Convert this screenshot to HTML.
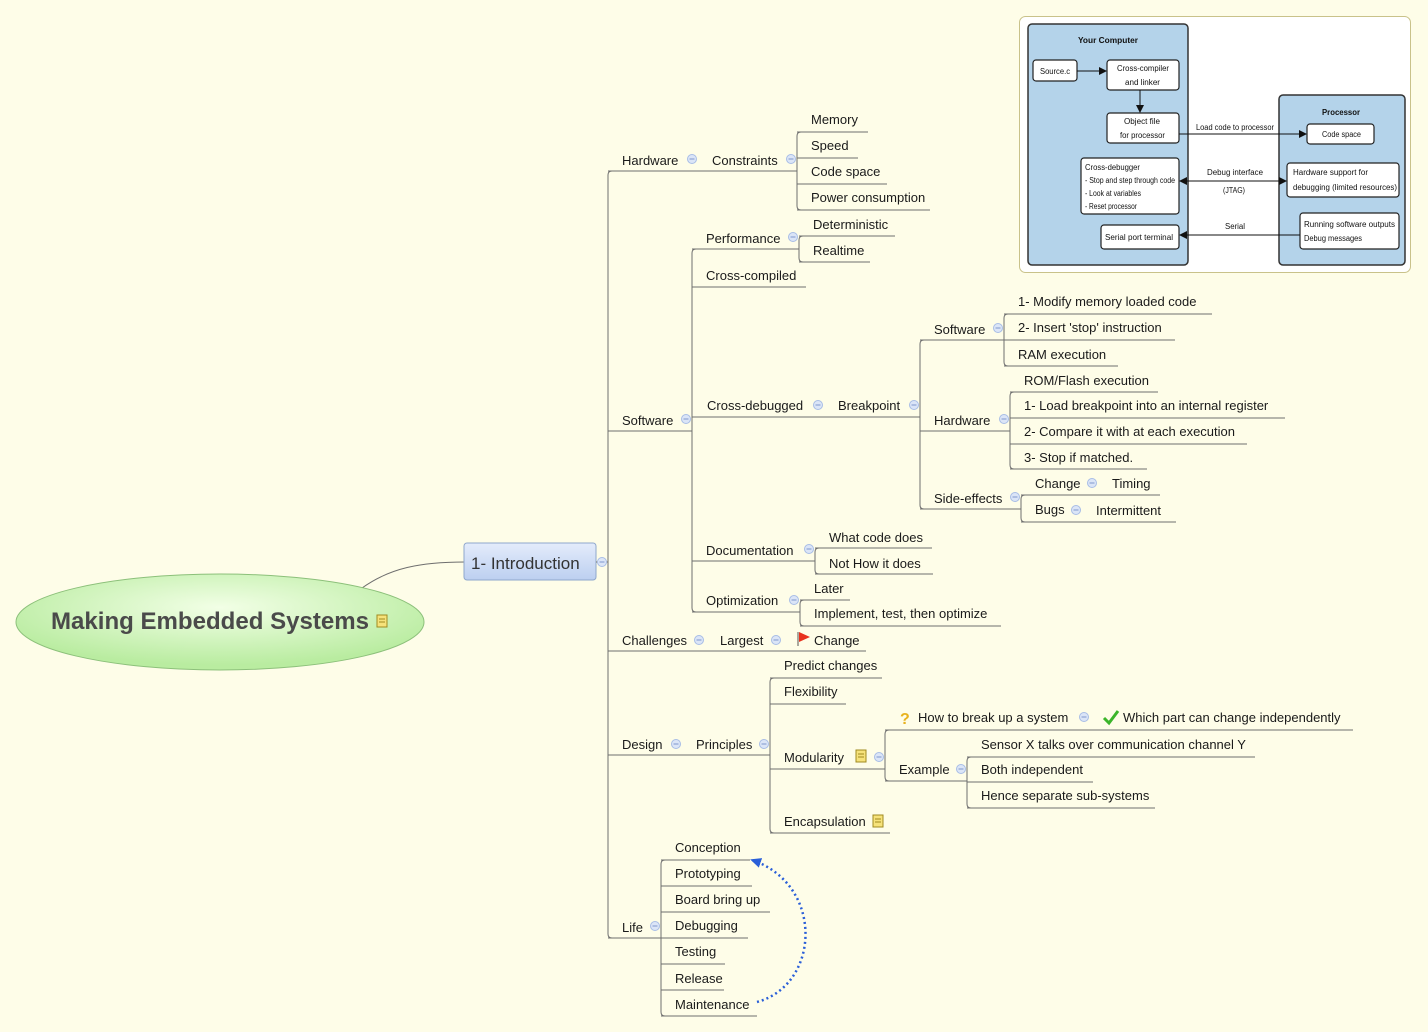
<!DOCTYPE html>
<html><head><meta charset="utf-8"><style>
html,body{margin:0;padding:0;background:#fefde8;}
svg{display:block}
text{font-family:"Liberation Sans",sans-serif;font-size:13px;fill:#1a1a1a;}
.l{stroke:#6e6e6e;stroke-width:1;fill:none}
.c{fill:#dbe5f7;stroke:#a8bde6;stroke-width:1}
.m{stroke:#7f97cc;stroke-width:1}
.s{font-size:8px;fill:#111}
.b{fill:#fff;stroke:#222;stroke-width:1.2}
</style></head><body>
<svg width="1428" height="1032" viewBox="0 0 1428 1032" xmlns="http://www.w3.org/2000/svg">
<defs>
<radialGradient id="g" cx="50%" cy="35%" r="60%"><stop offset="0" stop-color="#f2ffe6"/><stop offset="1" stop-color="#b9eca0"/></radialGradient>
<linearGradient id="bb" x1="0" y1="0" x2="0" y2="1"><stop offset="0" stop-color="#e4ecfb"/><stop offset="1" stop-color="#bccff0"/></linearGradient>
<marker id="ar" markerUnits="userSpaceOnUse" markerWidth="8" markerHeight="8" refX="7" refY="4" orient="auto-start-reverse"><path d="M0,0 L8,4 L0,8 z" fill="#111"/></marker>
<marker id="ab" markerUnits="userSpaceOnUse" markerWidth="12" markerHeight="12" refX="9" refY="6" orient="auto"><path d="M0,1 L11,6 L0,11 z" fill="#2a5fd8"/></marker>
</defs>

<!-- root -->
<path class="l" d="M362,588 C390,568 420,562 465,562"/>
<ellipse cx="220" cy="622" rx="204" ry="48" fill="url(#g)" stroke="#8cc07a" stroke-width="1"/>
<text x="51" y="629" style="font-size:24px;font-weight:bold;fill:#4a4a4a" textLength="318" lengthAdjust="spacingAndGlyphs">Making Embedded Systems</text>
<rect x="377" y="615" width="10" height="12" fill="#f6e27a" stroke="#a08a20"/>
<line x1="379" y1="619" x2="385" y2="619" stroke="#a08a20"/><line x1="379" y1="622" x2="385" y2="622" stroke="#a08a20"/>

<rect x="464" y="543" width="132" height="37" rx="3" fill="url(#bb)" stroke="#8fa7cc"/>
<text x="471" y="569" style="font-size:17px;fill:#333">1- Introduction</text>
<line class="l" x1="596" y1="562" x2="608" y2="562"/>

<!-- verticals -->
<path class="l" d="M612,171 Q608,171 608,175 L608,934 Q608,938 612,938"/>
<path class="l" d="M801,132 Q797,132 797,136 L797,206 Q797,210 801,210"/>
<path class="l" d="M696,249 Q692,249 692,253 L692,608 Q692,612 696,612"/>
<path class="l" d="M803,236 Q799,236 799,240 L799,258 Q799,262 803,262"/>
<path class="l" d="M924,340 Q920,340 920,344 L920,505 Q920,509 924,509"/>
<path class="l" d="M1008,314 Q1004,314 1004,318 L1004,362 Q1004,366 1008,366"/>
<path class="l" d="M1014,392 Q1010,392 1010,396 L1010,465 Q1010,469 1014,469"/>
<path class="l" d="M1025,495 Q1021,495 1021,499 L1021,518 Q1021,522 1025,522"/>
<path class="l" d="M819,548 Q815,548 815,552 L815,570 Q815,574 819,574"/>
<path class="l" d="M804,600 Q800,600 800,604 L800,622 Q800,626 804,626"/>
<path class="l" d="M774,678 Q770,678 770,682 L770,829 Q770,833 774,833"/>
<path class="l" d="M889,730 Q885,730 885,734 L885,777 Q885,781 889,781"/>
<path class="l" d="M971,757 Q967,757 967,761 L967,804 Q967,808 971,808"/>
<path class="l" d="M665,860 Q661,860 661,864 L661,1012 Q661,1016 665,1016"/>

<!-- underlines -->
<g class="l">
<line x1="608" y1="171" x2="700" y2="171"/><line x1="700" y1="171" x2="797" y2="171"/>
<line x1="797" y1="132" x2="868" y2="132"/><line x1="797" y1="158" x2="858" y2="158"/><line x1="797" y1="184" x2="887" y2="184"/><line x1="797" y1="210" x2="930" y2="210"/>
<line x1="608" y1="431" x2="692" y2="431"/>
<line x1="692" y1="249" x2="799" y2="249"/><line x1="692" y1="287" x2="806" y2="287"/><line x1="692" y1="417" x2="920" y2="417"/><line x1="692" y1="561" x2="815" y2="561"/><line x1="692" y1="612" x2="800" y2="612"/>
<line x1="799" y1="236" x2="895" y2="236"/><line x1="799" y1="262" x2="870" y2="262"/>
<line x1="920" y1="340" x2="1004" y2="340"/><line x1="920" y1="431" x2="1010" y2="431"/><line x1="920" y1="509" x2="1021" y2="509"/>
<line x1="1004" y1="314" x2="1212" y2="314"/><line x1="1004" y1="340" x2="1175" y2="340"/><line x1="1004" y1="366" x2="1118" y2="366"/>
<line x1="1010" y1="392" x2="1158" y2="392"/><line x1="1010" y1="418" x2="1285" y2="418"/><line x1="1010" y1="444" x2="1247" y2="444"/><line x1="1010" y1="469" x2="1147" y2="469"/>
<line x1="1021" y1="495" x2="1160" y2="495"/><line x1="1021" y1="522" x2="1176" y2="522"/>
<line x1="815" y1="548" x2="932" y2="548"/><line x1="815" y1="574" x2="933" y2="574"/>
<line x1="800" y1="600" x2="850" y2="600"/><line x1="800" y1="626" x2="1001" y2="626"/>
<line x1="608" y1="651" x2="866" y2="651"/>
<line x1="608" y1="755" x2="770" y2="755"/>
<line x1="770" y1="678" x2="882" y2="678"/><line x1="770" y1="704" x2="846" y2="704"/><line x1="770" y1="769" x2="885" y2="769"/><line x1="770" y1="833" x2="890" y2="833"/>
<line x1="885" y1="730" x2="1353" y2="730"/><line x1="885" y1="781" x2="967" y2="781"/>
<line x1="967" y1="757" x2="1255" y2="757"/><line x1="967" y1="782" x2="1093" y2="782"/><line x1="967" y1="808" x2="1155" y2="808"/>
<line x1="608" y1="938" x2="661" y2="938"/>
<line x1="661" y1="860" x2="750" y2="860"/><line x1="661" y1="886" x2="752" y2="886"/><line x1="661" y1="912" x2="770" y2="912"/><line x1="661" y1="938" x2="748" y2="938"/><line x1="661" y1="964" x2="725" y2="964"/><line x1="661" y1="990" x2="724" y2="990"/><line x1="661" y1="1016" x2="757" y2="1016"/>
</g>

<!-- texts -->
<text x="622" y="165">Hardware</text><text x="712" y="165">Constraints</text>
<text x="811" y="124">Memory</text><text x="811" y="150">Speed</text><text x="811" y="176">Code space</text><text x="811" y="202">Power consumption</text>
<text x="622" y="425">Software</text>
<text x="706" y="243">Performance</text><text x="813" y="229">Deterministic</text><text x="813" y="255">Realtime</text>
<text x="706" y="280">Cross-compiled</text>
<text x="707" y="410">Cross-debugged</text><text x="838" y="410">Breakpoint</text>
<text x="934" y="334">Software</text><text x="934" y="425">Hardware</text><text x="934" y="503">Side-effects</text>
<text x="1018" y="306">1- Modify memory loaded code</text><text x="1018" y="332">2- Insert 'stop' instruction</text><text x="1018" y="359">RAM execution</text>
<text x="1024" y="385">ROM/Flash execution</text><text x="1024" y="410">1- Load breakpoint into an internal register</text><text x="1024" y="436">2- Compare it with at each execution</text><text x="1024" y="462">3- Stop if matched.</text>
<text x="1035" y="488">Change</text><text x="1112" y="488">Timing</text><text x="1035" y="514">Bugs</text><text x="1096" y="515">Intermittent</text>
<text x="706" y="555">Documentation</text><text x="829" y="542">What code does</text><text x="829" y="568">Not How it does</text>
<text x="706" y="605">Optimization</text><text x="814" y="593">Later</text><text x="814" y="618">Implement, test, then optimize</text>
<text x="622" y="645">Challenges</text><text x="720" y="645">Largest</text><text x="814" y="645">Change</text>
<text x="622" y="749">Design</text><text x="696" y="749">Principles</text>
<text x="784" y="670">Predict changes</text><text x="784" y="696">Flexibility</text><text x="784" y="762">Modularity</text><text x="784" y="826">Encapsulation</text>
<text x="918" y="722">How to break up a system</text><text x="1123" y="722">Which part can change independently</text>
<text x="899" y="774">Example</text>
<text x="981" y="749">Sensor X talks over communication channel Y</text><text x="981" y="774">Both independent</text><text x="981" y="800">Hence separate sub-systems</text>
<text x="622" y="932">Life</text>
<text x="675" y="852">Conception</text><text x="675" y="878">Prototyping</text><text x="675" y="904">Board bring up</text><text x="675" y="930">Debugging</text><text x="675" y="956">Testing</text><text x="675" y="983">Release</text><text x="675" y="1009">Maintenance</text>

<!-- minus circles -->
<g>
<circle class="c" cx="602" cy="562" r="4.5"/>
<circle class="c" cx="692" cy="159" r="4.5"/><circle class="c" cx="791" cy="159" r="4.5"/>
<circle class="c" cx="686" cy="419" r="4.5"/><circle class="c" cx="793" cy="237" r="4.5"/>
<circle class="c" cx="818" cy="405" r="4.5"/><circle class="c" cx="914" cy="405" r="4.5"/>
<circle class="c" cx="998" cy="328" r="4.5"/><circle class="c" cx="1004" cy="419" r="4.5"/><circle class="c" cx="1015" cy="497" r="4.5"/>
<circle class="c" cx="1092" cy="483" r="4.5"/><circle class="c" cx="1076" cy="510" r="4.5"/>
<circle class="c" cx="809" cy="549" r="4.5"/><circle class="c" cx="794" cy="600" r="4.5"/>
<circle class="c" cx="699" cy="640" r="4.5"/><circle class="c" cx="776" cy="640" r="4.5"/>
<circle class="c" cx="676" cy="744" r="4.5"/><circle class="c" cx="764" cy="744" r="4.5"/>
<circle class="c" cx="879" cy="757" r="4.5"/><circle class="c" cx="1084" cy="717" r="4.5"/><circle class="c" cx="961" cy="769" r="4.5"/>
<circle class="c" cx="655" cy="926" r="4.5"/>
</g>
<path class="m" d="M599.5,562h5 M689.5,159h5 M788.5,159h5 M683.5,419h5 M790.5,237h5 M815.5,405h5 M911.5,405h5 M995.5,328h5 M1001.5,419h5 M1012.5,497h5 M1089.5,483h5 M1073.5,510h5 M806.5,549h5 M791.5,600h5 M696.5,640h5 M773.5,640h5 M673.5,744h5 M761.5,744h5 M876.5,757h5 M1081.5,717h5 M958.5,769h5 M652.5,926h5"/>

<!-- icons -->
<line x1="798" y1="632" x2="798" y2="646" stroke="#555"/><path d="M799,632 L810,637 L799,642 z" fill="#e8321e"/>
<rect x="856" y="750" width="10" height="12" fill="#f6e27a" stroke="#a08a20"/>
<path d="M858,754h6M858,757h6" stroke="#a08a20"/>
<rect x="873" y="815" width="10" height="12" fill="#f6e27a" stroke="#a08a20"/>
<path d="M875,819h6M875,822h6" stroke="#a08a20"/>
<text x="900" y="724" style="font-size:16px;font-weight:bold;fill:#e8b21e">?</text>
<path d="M1104,718 L1109,723 L1118,711" stroke="#3bb52a" stroke-width="3" fill="none"/>

<!-- dotted curve -->
<path d="M757,1002 C820,985 825,885 752,860" stroke="#2a5fd8" stroke-width="2.5" stroke-dasharray="2,3" fill="none" marker-end="url(#ab)"/>

<!-- image diagram -->
<rect x="1019.5" y="16.5" width="391" height="256" rx="6" fill="#fff" stroke="#c9c28a"/>
<rect x="1028" y="24" width="160" height="241" rx="4" fill="#b4d3ea" stroke="#333" stroke-width="1.5"/>
<rect x="1279" y="95" width="126" height="170" rx="4" fill="#b4d3ea" stroke="#333" stroke-width="1.5"/>
<text x="1078" y="43" class="s" style="font-weight:bold" textLength="60" lengthAdjust="spacingAndGlyphs">Your Computer</text>
<text x="1322" y="115" class="s" style="font-weight:bold" textLength="38" lengthAdjust="spacingAndGlyphs">Processor</text>
<rect class="b" x="1033" y="60" width="44" height="21" rx="3"/><text class="s" x="1040" y="74" textLength="30" lengthAdjust="spacingAndGlyphs">Source.c</text>
<rect class="b" x="1107" y="60" width="72" height="30" rx="3"/><text class="s" x="1117" y="71" textLength="52" lengthAdjust="spacingAndGlyphs">Cross-compiler</text><text class="s" x="1125" y="85" textLength="35" lengthAdjust="spacingAndGlyphs">and linker</text>
<rect class="b" x="1107" y="113" width="72" height="30" rx="3"/><text class="s" x="1124" y="124" textLength="36" lengthAdjust="spacingAndGlyphs">Object file</text><text class="s" x="1120" y="138" textLength="45" lengthAdjust="spacingAndGlyphs">for processor</text>
<rect class="b" x="1081" y="158" width="98" height="56" rx="3"/>
<text class="s" x="1085" y="170" textLength="55" lengthAdjust="spacingAndGlyphs">Cross-debugger</text><text class="s" x="1085" y="183" textLength="90" lengthAdjust="spacingAndGlyphs">- Stop and step through code</text><text class="s" x="1085" y="196" textLength="56" lengthAdjust="spacingAndGlyphs">- Look at variables</text><text class="s" x="1085" y="209" textLength="52" lengthAdjust="spacingAndGlyphs">- Reset processor</text>
<rect class="b" x="1101" y="225" width="78" height="24" rx="3"/><text class="s" x="1105" y="240" textLength="68" lengthAdjust="spacingAndGlyphs">Serial port terminal</text>
<rect class="b" x="1307" y="124" width="67" height="20" rx="3"/><text class="s" x="1322" y="137" textLength="39" lengthAdjust="spacingAndGlyphs">Code space</text>
<rect class="b" x="1287" y="163" width="112" height="34" rx="3"/><text class="s" x="1293" y="175" textLength="75" lengthAdjust="spacingAndGlyphs">Hardware support for</text><text class="s" x="1293" y="190" textLength="104" lengthAdjust="spacingAndGlyphs">debugging (limited resources)</text>
<rect class="b" x="1300" y="213" width="99" height="36" rx="3"/><text class="s" x="1304" y="227" textLength="91" lengthAdjust="spacingAndGlyphs">Running software outputs</text><text class="s" x="1304" y="241" textLength="58" lengthAdjust="spacingAndGlyphs">Debug messages</text>
<line x1="1077" y1="71" x2="1106" y2="71" stroke="#111" marker-end="url(#ar)"/>
<line x1="1140" y1="90" x2="1140" y2="112" stroke="#111" marker-end="url(#ar)"/>
<line x1="1179" y1="134" x2="1306" y2="134" stroke="#111" marker-end="url(#ar)"/>
<text class="s" x="1196" y="130" textLength="78" lengthAdjust="spacingAndGlyphs">Load code to processor</text>
<line x1="1180" y1="181" x2="1286" y2="181" stroke="#111" marker-end="url(#ar)" marker-start="url(#ar)"/>
<text class="s" x="1207" y="175" textLength="56" lengthAdjust="spacingAndGlyphs">Debug interface</text><text class="s" x="1223" y="193" textLength="22" lengthAdjust="spacingAndGlyphs">(JTAG)</text>
<line x1="1300" y1="235" x2="1180" y2="235" stroke="#111" marker-end="url(#ar)"/>
<text class="s" x="1225" y="229" textLength="20" lengthAdjust="spacingAndGlyphs">Serial</text>
</svg>
</body></html>
